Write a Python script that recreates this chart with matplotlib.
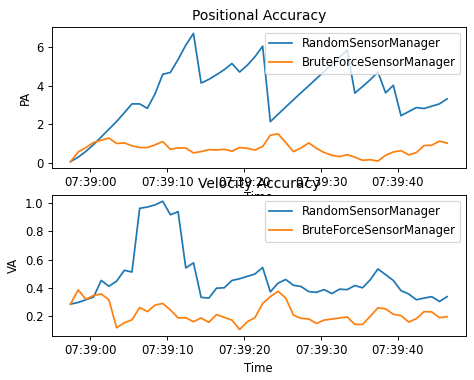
import matplotlib
matplotlib.use('Agg')
import matplotlib.pyplot as plt
import matplotlib.dates as mdates
import numpy as np
import pandas as pd

DPI = 83.5

times = pd.date_range('2024-01-01 07:38:57.4', periods=50, freq='1s')

pa_random = [0.07, 0.3, 0.6, 0.95, 1.35, 1.75, 2.15, 2.6, 3.06, 3.06,
             2.83, 3.58, 4.59, 4.69, 5.36, 6.1, 6.71, 4.14, 4.33, 4.57,
             4.83, 5.15, 4.71, 5.06, 5.5, 6.05, 2.14, 2.52, 2.9, 3.27,
             3.64, 4.0, 4.37, 4.73, 5.1, 5.47, 5.84, 3.62, 3.96, 4.31,
             4.71, 3.63, 4.02, 2.45, 2.66, 2.87, 2.82, 2.94, 3.06, 3.32]
pa_brute = [0.07, 0.57, 0.8, 1.06, 1.18, 1.29, 1.01, 1.04, 0.89, 0.8,
            0.8, 0.94, 1.11, 0.71, 0.78, 0.78, 0.52, 0.59, 0.69, 0.67,
            0.71, 0.61, 0.8, 0.76, 0.67, 0.85, 1.44, 1.51, 1.06, 0.59,
            0.78, 1.04, 0.76, 0.54, 0.4, 0.33, 0.43, 0.3, 0.14, 0.17,
            0.1, 0.4, 0.57, 0.64, 0.42, 0.54, 0.9, 0.92, 1.13, 1.03]

va_random = [0.284, 0.296, 0.315, 0.335, 0.452, 0.411, 0.447, 0.524, 0.512, 0.964,
             0.973, 0.988, 1.014, 0.918, 0.94, 0.541, 0.577, 0.332, 0.327, 0.397,
             0.4, 0.452, 0.464, 0.481, 0.498, 0.544, 0.371, 0.433, 0.459, 0.418,
             0.409, 0.373, 0.368, 0.387, 0.359, 0.39, 0.387, 0.416, 0.4, 0.457,
             0.534, 0.493, 0.452, 0.38, 0.356, 0.315, 0.327, 0.337, 0.303, 0.337]
va_brute = [0.284, 0.385, 0.318, 0.346, 0.356, 0.315, 0.116, 0.152, 0.173, 0.26,
            0.231, 0.277, 0.289, 0.243, 0.186, 0.188, 0.159, 0.186, 0.155, 0.21,
            0.19, 0.171, 0.104, 0.159, 0.188, 0.289, 0.337, 0.375, 0.328, 0.207,
            0.183, 0.179, 0.147, 0.171, 0.178, 0.186, 0.193, 0.14, 0.14, 0.198,
            0.258, 0.25, 0.212, 0.203, 0.157, 0.181, 0.231, 0.229, 0.188, 0.195]

fig, (ax1, ax2) = plt.subplots(2, 1, figsize=(474 / DPI, 380 / DPI), dpi=DPI)
fig.subplots_adjust(left=0.109, right=0.983, top=0.929, bottom=0.116, hspace=0.19)

panels = [
    (ax1, pa_random, pa_brute, 'Positional Accuracy', 'PA'),
    (ax2, va_random, va_brute, 'Velocity Accuracy', 'VA'),
]
for ax, rnd, brute, title, ylab in panels:
    ax.plot(times, rnd, label='RandomSensorManager')
    ax.plot(times, brute, label='BruteForceSensorManager')
    ax.set_title(title)
    ax.set_xlabel('Time')
    ax.set_ylabel(ylab)
    ax.xaxis.set_major_locator(mdates.SecondLocator(bysecond=range(0, 60, 10)))
    ax.xaxis.set_major_formatter(mdates.DateFormatter('%H:%M:%S'))
    ax.legend(loc='upper right')

# the top "Time" label peeks out under the lower title in the original
ax1.xaxis.labelpad = 1.5

plt.savefig('out.png', dpi=DPI)
plt.close()
